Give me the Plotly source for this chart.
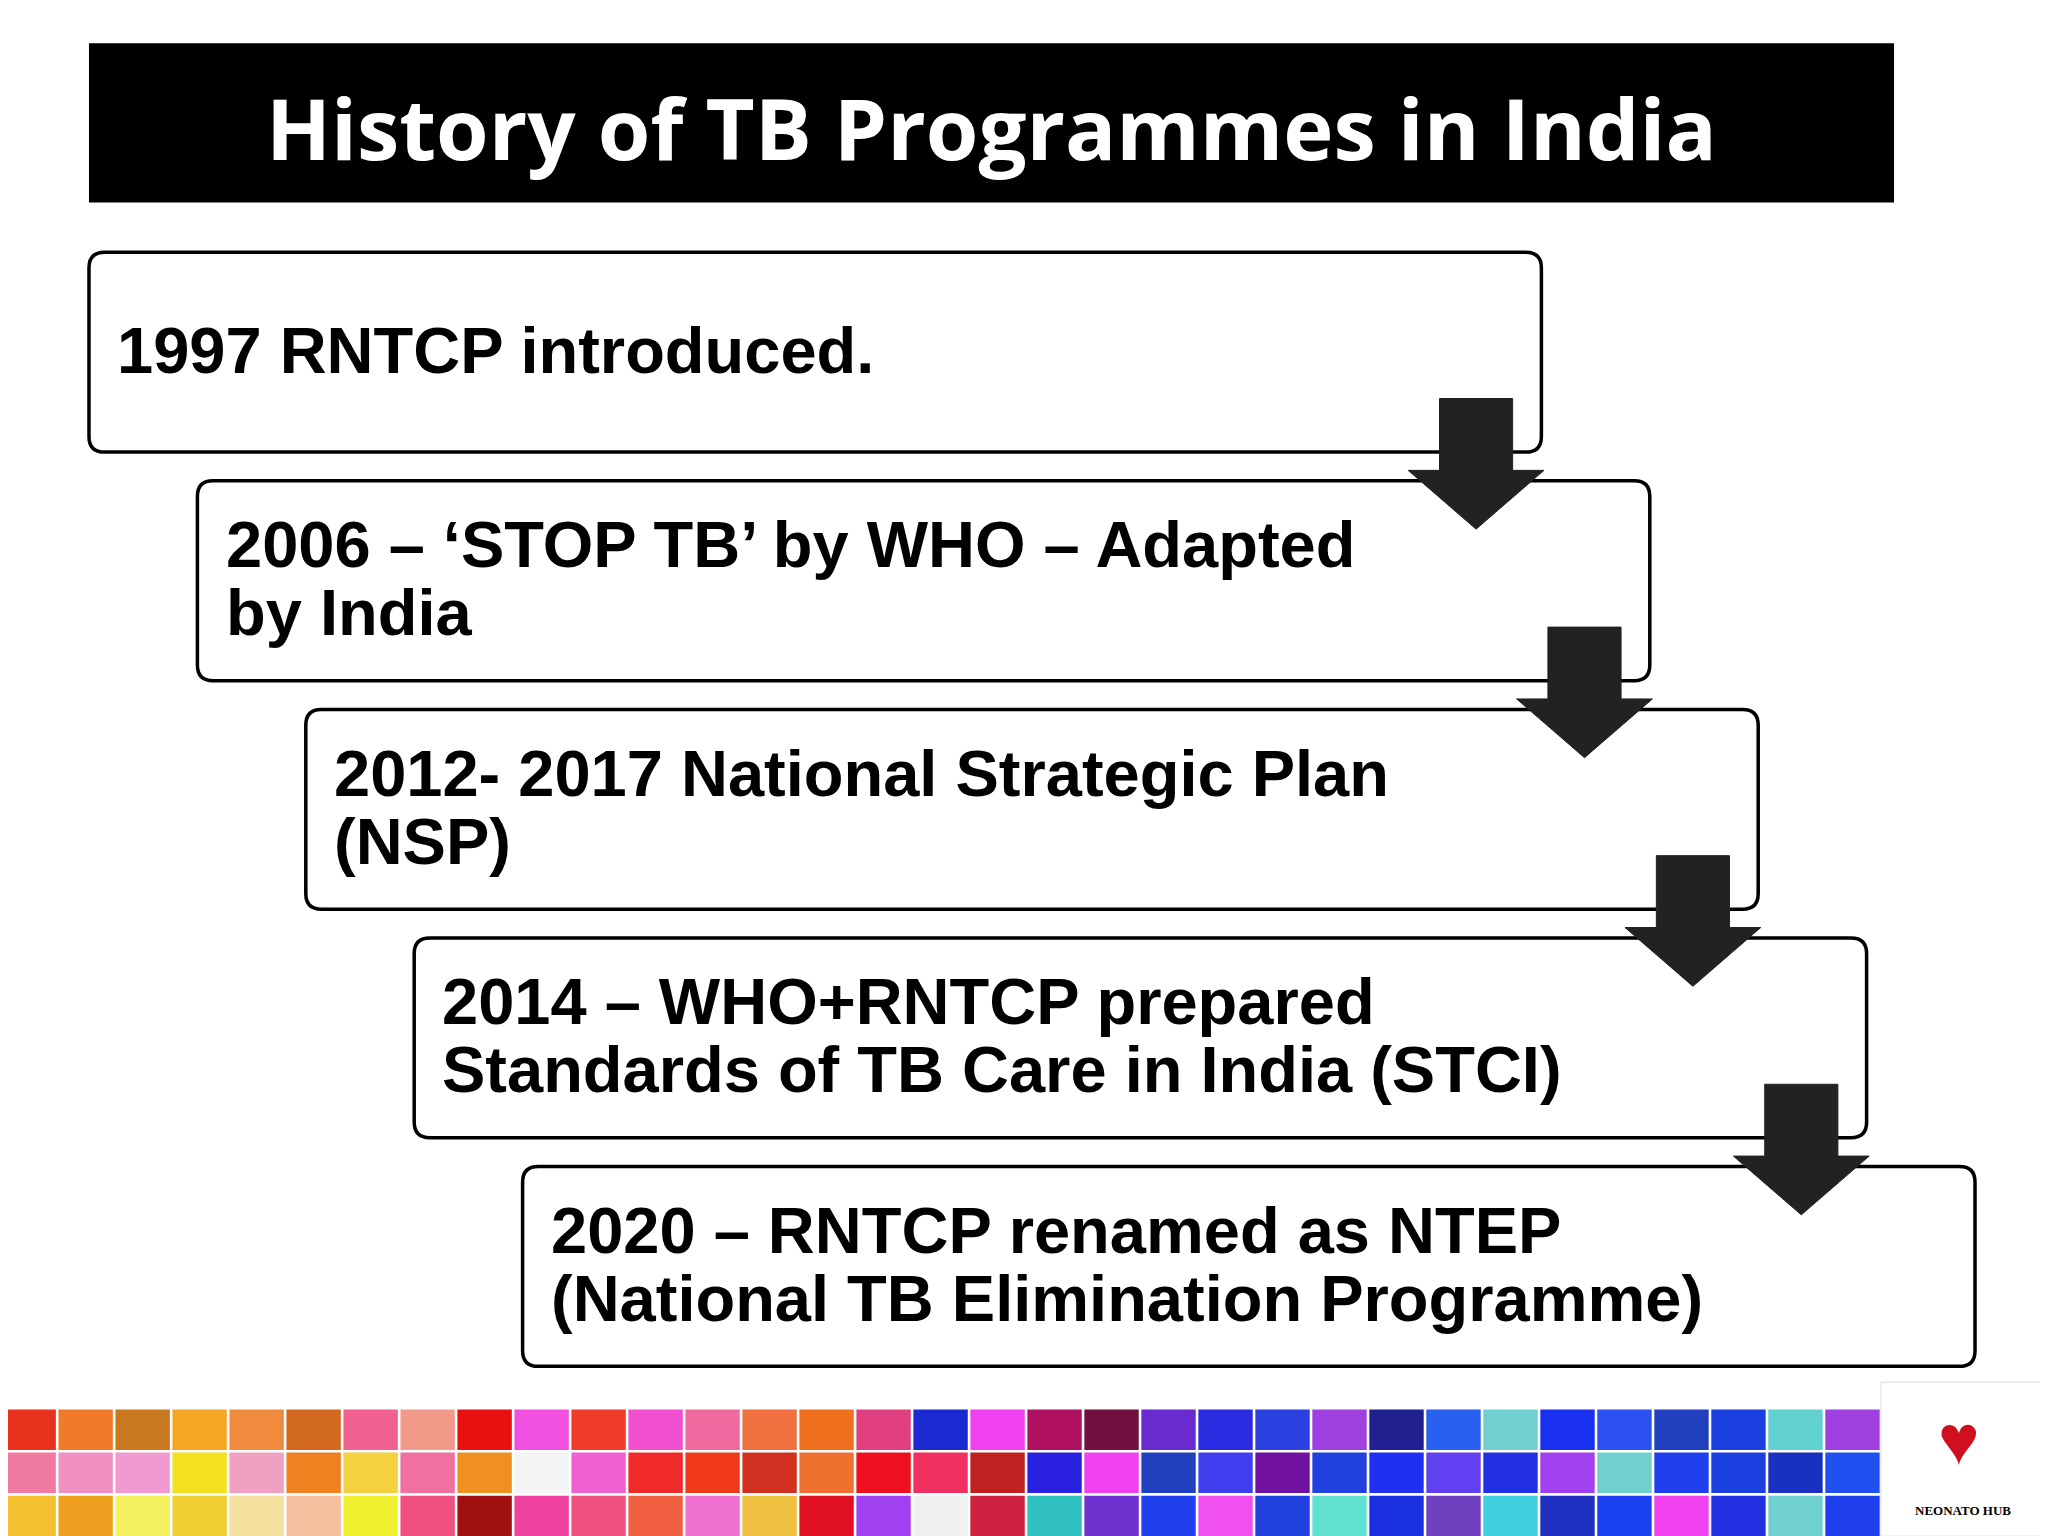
import plotly.graph_objects as go

title = "History of TB Programmes in India"
steps = [
    ["1997 RNTCP introduced."],
    ["2006 – ‘STOP TB’ by WHO – Adapted", "by India"],
    ["2012- 2017 National Strategic Plan", "(NSP)"],
    ["2014 – WHO+RNTCP prepared", "Standards of TB Care in India (STCI)"],
    ["2020 – RNTCP renamed as NTEP", "(National TB Elimination Programme)"],
]
row1 = ["#e8321e","#f07a2a","#c8781e","#f5a623","#f08a3c","#d2691e","#f06090","#f29a8a","#e81010","#f050e0","#f03a2a","#f050d0","#f06aa0","#f07040","#f07020","#e04080","#1a2ad0","#f040f0","#b01060","#701040","#6a2ad0","#2a2ae0","#2a40e0","#a040e0","#202090","#2a60f0","#70d0d0","#1a30f0","#2a50f0","#2040c0","#1a40e0","#60d0d0","#a040e0"]
row2 = ["#f07aa0","#f090c0","#f09ad0","#f5e020","#f0a0c0","#f08020","#f5d040","#f070a0","#f09020","#f5f5f5","#f060d0","#f02a2a","#f03a1a","#d03020","#f07030","#f01020","#f03060","#c02020","#2a20e0","#f040f0","#2040c0","#4040f0","#7010a0","#2040e0","#2030f0","#6040f0","#2030e0","#a040f0","#70d0d0","#2040f0","#1a40e0","#1a30c0","#2050f0"]
row3 = ["#f5c030","#f0a020","#f5f060","#f0d030","#f5e0a0","#f5c0a0","#f0f030","#f05080","#a01010","#f040a0","#f05080","#f06040","#f070d0","#f0c040","#e01020","#a040f0","#f0f0f0","#d02040","#30c0c0","#7030d0","#2040f0","#f050f0","#2040e0","#60e0d0","#1a30e0","#7040c0","#40d0e0","#2030c0","#1a40f0","#f040f0","#2030e0","#70d0d0","#2040f0"]

def rrect(x0, y0, x1, y1, r):
    return (f"M {x0+r},{y0} L {x1-r},{y0} Q {x1},{y0} {x1},{y0+r} L {x1},{y1-r} Q {x1},{y1} {x1-r},{y1} "
            f"L {x0+r},{y1} Q {x0},{y1} {x0},{y1-r} L {x0},{y0+r} Q {x0},{y0} {x0+r},{y0} Z")

fig = go.Figure()
shapes, ann = [], []
shapes.append(dict(type="rect", x0=68, x1=1450, y0=33, y1=155, fillcolor="black", line_width=0, layer="below"))
ann.append(dict(x=759, y=97, text="<b>"+title+"</b>", showarrow=False, font=dict(family="Open Sans", size=85, color="white"), xanchor="center", yanchor="middle"))
dx, dy = 83, 175
for i, lines in enumerate(steps):
    x0, y0 = 68 + dx*i, 193 + dy*i
    shapes.append(dict(type="path", path=rrect(x0, y0, x0+1112, y0+153, 12), fillcolor="white",
                       line=dict(color="black", width=3.5), layer="below"))
    ys = [y0+75] if len(lines) == 1 else [y0+49, y0+101]
    for t, yy in zip(lines, ys):
        ann.append(dict(x=x0+20, y=yy, text="<b>"+t+"</b>", showarrow=False, align="left",
                        xanchor="left", yanchor="middle", font=dict(family="Liberation Sans", size=65, color="black")))
for i in range(4):
    cx, top = 1130 + dx*i, 305 + dy*i
    shapes.append(dict(type="path", path=f"M {cx-28},{top} L {cx+28},{top} L {cx+28},{top+55} L {cx+52},{top+55} L {cx},{top+100} L {cx-52},{top+55} L {cx-28},{top+55} Z",
                       fillcolor="#222222", line=dict(color="#222222", width=1)))
w = 1440/len(row1)
for r, row in enumerate([row1, row2, row3]):
    for j, c in enumerate(row):
        shapes.append(dict(type="rect", x0=j*w+1, x1=(j+1)*w-1, y0=1078+r*33+1, y1=1078+(r+1)*33-1,
                           fillcolor=c, line_width=0, layer="below"))
shapes.append(dict(type="rect", x0=1440, x1=1568, y0=1058, y1=1176, fillcolor="white", line=dict(color="#dddddd", width=1)))
ann.append(dict(x=1500, y=1100, text="♥", showarrow=False, font=dict(size=70, color="#d01020")))
ann.append(dict(x=1503, y=1156, text="<b>NEONATO HUB</b>", showarrow=False, font=dict(family="Liberation Serif", size=13, color="black")))

fig.update_layout(width=2048, height=1536, margin=dict(l=0, r=0, t=0, b=0), plot_bgcolor="white", paper_bgcolor="white",
                  shapes=shapes, annotations=ann,
                  xaxis=dict(range=[6, 1574], visible=False, fixedrange=True),
                  yaxis=dict(range=[1182, 6], visible=False, fixedrange=True), showlegend=False)
fig.write_html("out.html")
